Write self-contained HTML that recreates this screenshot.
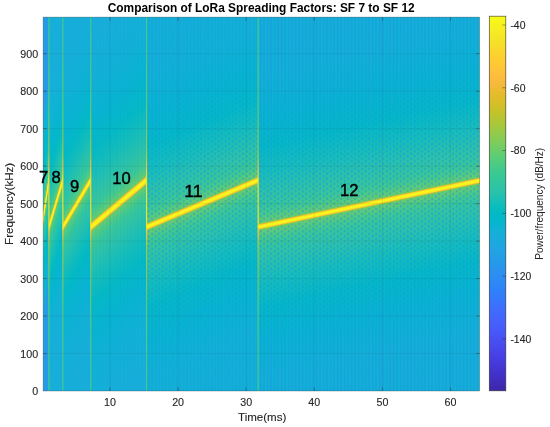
<!DOCTYPE html>
<html><head><meta charset="utf-8"><title>Comparison of LoRa Spreading Factors</title>
<style>html,body{margin:0;padding:0;background:#fff}svg{display:block;font-family:"Liberation Sans",Arial,Helvetica,sans-serif}</style>
</head><body>
<svg width="550" height="427" viewBox="0 0 550 427">
<defs><pattern id="stripes" patternUnits="userSpaceOnUse" x="0.8" y="0" width="3.5" height="10"><rect x="0" y="0" width="1.6" height="10" fill="#3c6cf5"/></pattern>
<pattern id="dots" patternUnits="userSpaceOnUse" x="0.8" y="0" width="7" height="5"><ellipse cx="0.8" cy="1.25" rx="1.15" ry="1.35" fill="#1e8cf0"/><ellipse cx="4.3" cy="3.75" rx="1.15" ry="1.35" fill="#1e8cf0"/></pattern>
<linearGradient id="g0" gradientUnits="userSpaceOnUse" x1="-19.26" y1="217.93" x2="103.06" y2="236.14"><stop offset="0.0000" stop-color="#259be8"/><stop offset="0.3729" stop-color="#259be8"/><stop offset="0.4044" stop-color="#10b2d5"/><stop offset="0.4282" stop-color="#06b5cf"/><stop offset="0.4461" stop-color="#02bac4"/><stop offset="0.4610" stop-color="#14bfb8"/><stop offset="0.4729" stop-color="#29c3a9"/><stop offset="0.4818" stop-color="#35c79a"/><stop offset="0.4865" stop-color="#44cb89"/><stop offset="0.4901" stop-color="#5ecd74"/><stop offset="0.4919" stop-color="#69cd6b"/><stop offset="0.4929" stop-color="#bbc42f"/><stop offset="0.4936" stop-color="#eaba31"/><stop offset="0.4949" stop-color="#feca33"/><stop offset="0.4968" stop-color="#f5ef20"/><stop offset="0.5000" stop-color="#f8f818"/><stop offset="0.5032" stop-color="#f5ef20"/><stop offset="0.5051" stop-color="#feca33"/><stop offset="0.5064" stop-color="#eaba31"/><stop offset="0.5071" stop-color="#bbc42f"/><stop offset="0.5081" stop-color="#69cd6b"/><stop offset="0.5099" stop-color="#5ecd74"/><stop offset="0.5135" stop-color="#44cb89"/><stop offset="0.5182" stop-color="#35c79a"/><stop offset="0.5271" stop-color="#29c3a9"/><stop offset="0.5390" stop-color="#14bfb8"/><stop offset="0.5539" stop-color="#02bac4"/><stop offset="0.5718" stop-color="#06b5cf"/><stop offset="0.5956" stop-color="#10b2d5"/><stop offset="0.6271" stop-color="#259be8"/><stop offset="1.0000" stop-color="#259be8"/></linearGradient>
<linearGradient id="g1" gradientUnits="userSpaceOnUse" x1="-65.98" y1="192.84" x2="163.73" y2="261.23"><stop offset="0.0000" stop-color="#17aeda"/><stop offset="0.3389" stop-color="#17aeda"/><stop offset="0.3799" stop-color="#10b2d5"/><stop offset="0.4109" stop-color="#06b5cf"/><stop offset="0.4341" stop-color="#02bac4"/><stop offset="0.4535" stop-color="#14bfb8"/><stop offset="0.4689" stop-color="#29c3a9"/><stop offset="0.4805" stop-color="#35c79a"/><stop offset="0.4867" stop-color="#44cb89"/><stop offset="0.4914" stop-color="#5ecd74"/><stop offset="0.4937" stop-color="#69cd6b"/><stop offset="0.4946" stop-color="#bbc42f"/><stop offset="0.4952" stop-color="#eaba31"/><stop offset="0.4961" stop-color="#feca33"/><stop offset="0.4976" stop-color="#f5ef20"/><stop offset="0.5000" stop-color="#f8f818"/><stop offset="0.5024" stop-color="#f5ef20"/><stop offset="0.5039" stop-color="#feca33"/><stop offset="0.5048" stop-color="#eaba31"/><stop offset="0.5054" stop-color="#bbc42f"/><stop offset="0.5063" stop-color="#69cd6b"/><stop offset="0.5086" stop-color="#5ecd74"/><stop offset="0.5133" stop-color="#44cb89"/><stop offset="0.5195" stop-color="#35c79a"/><stop offset="0.5311" stop-color="#29c3a9"/><stop offset="0.5465" stop-color="#14bfb8"/><stop offset="0.5659" stop-color="#02bac4"/><stop offset="0.5891" stop-color="#06b5cf"/><stop offset="0.6201" stop-color="#10b2d5"/><stop offset="0.6611" stop-color="#17aeda"/><stop offset="1.0000" stop-color="#17aeda"/></linearGradient>
<linearGradient id="g2" gradientUnits="userSpaceOnUse" x1="-121.80" y1="117.11" x2="247.44" y2="336.96"><stop offset="0.0000" stop-color="#16afd9"/><stop offset="0.3042" stop-color="#16afd9"/><stop offset="0.3546" stop-color="#10b2d5"/><stop offset="0.3927" stop-color="#06b5cf"/><stop offset="0.4213" stop-color="#02bac4"/><stop offset="0.4451" stop-color="#14bfb8"/><stop offset="0.4642" stop-color="#29c3a9"/><stop offset="0.4785" stop-color="#35c79a"/><stop offset="0.4861" stop-color="#44cb89"/><stop offset="0.4918" stop-color="#5ecd74"/><stop offset="0.4946" stop-color="#69cd6b"/><stop offset="0.4956" stop-color="#bbc42f"/><stop offset="0.4960" stop-color="#eaba31"/><stop offset="0.4968" stop-color="#feca33"/><stop offset="0.4980" stop-color="#f5ef20"/><stop offset="0.5000" stop-color="#f8f818"/><stop offset="0.5020" stop-color="#f5ef20"/><stop offset="0.5032" stop-color="#feca33"/><stop offset="0.5040" stop-color="#eaba31"/><stop offset="0.5044" stop-color="#bbc42f"/><stop offset="0.5054" stop-color="#69cd6b"/><stop offset="0.5082" stop-color="#5ecd74"/><stop offset="0.5139" stop-color="#44cb89"/><stop offset="0.5215" stop-color="#35c79a"/><stop offset="0.5358" stop-color="#29c3a9"/><stop offset="0.5549" stop-color="#14bfb8"/><stop offset="0.5787" stop-color="#02bac4"/><stop offset="0.6073" stop-color="#06b5cf"/><stop offset="0.6454" stop-color="#10b2d5"/><stop offset="0.6958" stop-color="#16afd9"/><stop offset="1.0000" stop-color="#16afd9"/></linearGradient>
<linearGradient id="g3" gradientUnits="userSpaceOnUse" x1="-116.12" y1="-19.28" x2="297.55" y2="473.34"><stop offset="0.0000" stop-color="#16afd9"/><stop offset="0.2683" stop-color="#16afd9"/><stop offset="0.3283" stop-color="#10b2d5"/><stop offset="0.3735" stop-color="#06b5cf"/><stop offset="0.4074" stop-color="#02bac4"/><stop offset="0.4357" stop-color="#14bfb8"/><stop offset="0.4583" stop-color="#29c3a9"/><stop offset="0.4753" stop-color="#35c79a"/><stop offset="0.4843" stop-color="#44cb89"/><stop offset="0.4911" stop-color="#5ecd74"/><stop offset="0.4945" stop-color="#69cd6b"/><stop offset="0.4955" stop-color="#bbc42f"/><stop offset="0.4959" stop-color="#eaba31"/><stop offset="0.4967" stop-color="#feca33"/><stop offset="0.4980" stop-color="#f5ef20"/><stop offset="0.5000" stop-color="#f8f818"/><stop offset="0.5020" stop-color="#f5ef20"/><stop offset="0.5033" stop-color="#feca33"/><stop offset="0.5041" stop-color="#eaba31"/><stop offset="0.5045" stop-color="#bbc42f"/><stop offset="0.5055" stop-color="#69cd6b"/><stop offset="0.5089" stop-color="#5ecd74"/><stop offset="0.5157" stop-color="#44cb89"/><stop offset="0.5247" stop-color="#35c79a"/><stop offset="0.5417" stop-color="#29c3a9"/><stop offset="0.5643" stop-color="#14bfb8"/><stop offset="0.5926" stop-color="#02bac4"/><stop offset="0.6265" stop-color="#06b5cf"/><stop offset="0.6717" stop-color="#10b2d5"/><stop offset="0.7317" stop-color="#16afd9"/><stop offset="1.0000" stop-color="#16afd9"/></linearGradient>
<linearGradient id="g4" gradientUnits="userSpaceOnUse" x1="-3.42" y1="-130.02" x2="296.42" y2="584.09"><stop offset="0.0000" stop-color="#11b1d6"/><stop offset="0.2575" stop-color="#11b1d6"/><stop offset="0.3206" stop-color="#10b2d5"/><stop offset="0.3682" stop-color="#06b5cf"/><stop offset="0.4039" stop-color="#02bac4"/><stop offset="0.4337" stop-color="#14bfb8"/><stop offset="0.4575" stop-color="#29c3a9"/><stop offset="0.4754" stop-color="#35c79a"/><stop offset="0.4849" stop-color="#44cb89"/><stop offset="0.4920" stop-color="#5ecd74"/><stop offset="0.4956" stop-color="#69cd6b"/><stop offset="0.4965" stop-color="#bbc42f"/><stop offset="0.4969" stop-color="#eaba31"/><stop offset="0.4975" stop-color="#feca33"/><stop offset="0.4984" stop-color="#f5ef20"/><stop offset="0.5000" stop-color="#f8f818"/><stop offset="0.5016" stop-color="#f5ef20"/><stop offset="0.5025" stop-color="#feca33"/><stop offset="0.5031" stop-color="#eaba31"/><stop offset="0.5035" stop-color="#bbc42f"/><stop offset="0.5044" stop-color="#69cd6b"/><stop offset="0.5080" stop-color="#5ecd74"/><stop offset="0.5151" stop-color="#44cb89"/><stop offset="0.5246" stop-color="#35c79a"/><stop offset="0.5425" stop-color="#29c3a9"/><stop offset="0.5663" stop-color="#14bfb8"/><stop offset="0.5961" stop-color="#02bac4"/><stop offset="0.6318" stop-color="#06b5cf"/><stop offset="0.6794" stop-color="#10b2d5"/><stop offset="0.7425" stop-color="#11b1d6"/><stop offset="1.0000" stop-color="#11b1d6"/></linearGradient>
<linearGradient id="ng4" gradientUnits="userSpaceOnUse" x1="-3.42" y1="-130.02" x2="296.42" y2="584.09"><stop offset="0.0000" stop-color="#fff" stop-opacity="0.90"/><stop offset="0.2976" stop-color="#fff" stop-opacity="0.90"/><stop offset="0.4405" stop-color="#fff" stop-opacity="0.20"/><stop offset="0.5595" stop-color="#fff" stop-opacity="0.20"/><stop offset="0.7024" stop-color="#fff" stop-opacity="0.90"/><stop offset="1.0000" stop-color="#fff" stop-opacity="0.90"/></linearGradient>
<mask id="n4" maskUnits="userSpaceOnUse" x="0" y="0" width="550" height="427"><rect x="146.50" y="17.10" width="111.58" height="373.90" fill="url(#ng4)"/></mask>
<linearGradient id="mg4" gradientUnits="userSpaceOnUse" x1="-3.42" y1="-130.02" x2="296.42" y2="584.09"><stop offset="0.0000" stop-color="#fff" stop-opacity="0.15"/><stop offset="0.3333" stop-color="#fff" stop-opacity="0.15"/><stop offset="0.4464" stop-color="#fff" stop-opacity="1.00"/><stop offset="0.5536" stop-color="#fff" stop-opacity="1.00"/><stop offset="0.6667" stop-color="#fff" stop-opacity="0.15"/><stop offset="1.0000" stop-color="#fff" stop-opacity="0.15"/></linearGradient>
<mask id="m4" maskUnits="userSpaceOnUse" x="0" y="0" width="550" height="427"><rect x="146.50" y="17.10" width="111.58" height="373.90" fill="url(#mg4)"/></mask>
<linearGradient id="g5" gradientUnits="userSpaceOnUse" x1="173.63" y1="-175.24" x2="342.53" y2="629.31"><stop offset="0.0000" stop-color="#11b1d6"/><stop offset="0.2579" stop-color="#11b1d6"/><stop offset="0.3210" stop-color="#10b2d5"/><stop offset="0.3686" stop-color="#06b5cf"/><stop offset="0.4043" stop-color="#02bac4"/><stop offset="0.4341" stop-color="#14bfb8"/><stop offset="0.4579" stop-color="#29c3a9"/><stop offset="0.4758" stop-color="#35c79a"/><stop offset="0.4853" stop-color="#44cb89"/><stop offset="0.4924" stop-color="#5ecd74"/><stop offset="0.4960" stop-color="#69cd6b"/><stop offset="0.4970" stop-color="#bbc42f"/><stop offset="0.4973" stop-color="#eaba31"/><stop offset="0.4978" stop-color="#feca33"/><stop offset="0.4986" stop-color="#f5ef20"/><stop offset="0.5000" stop-color="#f8f818"/><stop offset="0.5014" stop-color="#f5ef20"/><stop offset="0.5022" stop-color="#feca33"/><stop offset="0.5027" stop-color="#eaba31"/><stop offset="0.5030" stop-color="#bbc42f"/><stop offset="0.5040" stop-color="#69cd6b"/><stop offset="0.5076" stop-color="#5ecd74"/><stop offset="0.5147" stop-color="#44cb89"/><stop offset="0.5242" stop-color="#35c79a"/><stop offset="0.5421" stop-color="#29c3a9"/><stop offset="0.5659" stop-color="#14bfb8"/><stop offset="0.5957" stop-color="#02bac4"/><stop offset="0.6314" stop-color="#06b5cf"/><stop offset="0.6790" stop-color="#10b2d5"/><stop offset="0.7421" stop-color="#11b1d6"/><stop offset="1.0000" stop-color="#11b1d6"/></linearGradient>
<linearGradient id="ng5" gradientUnits="userSpaceOnUse" x1="173.63" y1="-175.24" x2="342.53" y2="629.31"><stop offset="0.0000" stop-color="#fff" stop-opacity="0.90"/><stop offset="0.2976" stop-color="#fff" stop-opacity="0.90"/><stop offset="0.4405" stop-color="#fff" stop-opacity="0.20"/><stop offset="0.5595" stop-color="#fff" stop-opacity="0.20"/><stop offset="0.7024" stop-color="#fff" stop-opacity="0.90"/><stop offset="1.0000" stop-color="#fff" stop-opacity="0.90"/></linearGradient>
<mask id="n5" maskUnits="userSpaceOnUse" x="0" y="0" width="550" height="427"><rect x="258.08" y="17.10" width="221.52" height="373.90" fill="url(#ng5)"/></mask>
<linearGradient id="mg5" gradientUnits="userSpaceOnUse" x1="173.63" y1="-175.24" x2="342.53" y2="629.31"><stop offset="0.0000" stop-color="#fff" stop-opacity="0.15"/><stop offset="0.3333" stop-color="#fff" stop-opacity="0.15"/><stop offset="0.4464" stop-color="#fff" stop-opacity="1.00"/><stop offset="0.5536" stop-color="#fff" stop-opacity="1.00"/><stop offset="0.6667" stop-color="#fff" stop-opacity="0.15"/><stop offset="1.0000" stop-color="#fff" stop-opacity="0.15"/></linearGradient>
<mask id="m5" maskUnits="userSpaceOnUse" x="0" y="0" width="550" height="427"><rect x="258.08" y="17.10" width="221.52" height="373.90" fill="url(#mg5)"/></mask>
<linearGradient id="vl" gradientUnits="userSpaceOnUse" x1="0" y1="17.10" x2="0" y2="391.00"><stop offset="0.0000" stop-color="#41ca8c"/><stop offset="0.2356" stop-color="#5bcc76"/><stop offset="0.3613" stop-color="#97ca48"/><stop offset="0.4041" stop-color="#fec13a"/><stop offset="0.4308" stop-color="#f5e228"/><stop offset="0.5615" stop-color="#f5e228"/><stop offset="0.5775" stop-color="#fec13a"/><stop offset="0.6203" stop-color="#97ca48"/><stop offset="0.7621" stop-color="#5bcc76"/><stop offset="1.0000" stop-color="#41ca8c"/></linearGradient>
<linearGradient id="cb" x1="0" y1="0" x2="0" y2="1"><stop offset="0.0000" stop-color="#f9fb15"/><stop offset="0.0159" stop-color="#f7f51b"/><stop offset="0.0317" stop-color="#f6ef20"/><stop offset="0.0476" stop-color="#f5e924"/><stop offset="0.0635" stop-color="#f5e327"/><stop offset="0.0794" stop-color="#f7dc2a"/><stop offset="0.0952" stop-color="#fad62d"/><stop offset="0.1111" stop-color="#fccf30"/><stop offset="0.1270" stop-color="#fec934"/><stop offset="0.1429" stop-color="#fec338"/><stop offset="0.1587" stop-color="#febe3c"/><stop offset="0.1746" stop-color="#f8ba3d"/><stop offset="0.1905" stop-color="#f0ba36"/><stop offset="0.2063" stop-color="#e6bb2d"/><stop offset="0.2222" stop-color="#dcbd29"/><stop offset="0.2381" stop-color="#d1bf27"/><stop offset="0.2540" stop-color="#c5c22a"/><stop offset="0.2698" stop-color="#b9c431"/><stop offset="0.2857" stop-color="#abc739"/><stop offset="0.3016" stop-color="#9dc943"/><stop offset="0.3175" stop-color="#8fcb4e"/><stop offset="0.3333" stop-color="#81cc59"/><stop offset="0.3492" stop-color="#72cd64"/><stop offset="0.3651" stop-color="#64cd6f"/><stop offset="0.3810" stop-color="#57cc7a"/><stop offset="0.3968" stop-color="#4acb84"/><stop offset="0.4127" stop-color="#3fca8e"/><stop offset="0.4286" stop-color="#37c897"/><stop offset="0.4444" stop-color="#31c69f"/><stop offset="0.4603" stop-color="#2cc4a7"/><stop offset="0.4762" stop-color="#24c1ae"/><stop offset="0.4921" stop-color="#19bfb6"/><stop offset="0.5079" stop-color="#0bbdbd"/><stop offset="0.5238" stop-color="#02bac3"/><stop offset="0.5397" stop-color="#01b8ca"/><stop offset="0.5556" stop-color="#08b5d0"/><stop offset="0.5714" stop-color="#12b1d6"/><stop offset="0.5873" stop-color="#18addb"/><stop offset="0.6032" stop-color="#1ca9df"/><stop offset="0.6190" stop-color="#20a5e3"/><stop offset="0.6349" stop-color="#23a0e5"/><stop offset="0.6508" stop-color="#259be8"/><stop offset="0.6667" stop-color="#2797eb"/><stop offset="0.6825" stop-color="#2b91ef"/><stop offset="0.6984" stop-color="#2d8cf3"/><stop offset="0.7143" stop-color="#2e87f7"/><stop offset="0.7302" stop-color="#2f81fa"/><stop offset="0.7460" stop-color="#327cfc"/><stop offset="0.7619" stop-color="#3875fe"/><stop offset="0.7778" stop-color="#3e6fff"/><stop offset="0.7937" stop-color="#4269fe"/><stop offset="0.8095" stop-color="#4563fd"/><stop offset="0.8254" stop-color="#465efb"/><stop offset="0.8413" stop-color="#4758f8"/><stop offset="0.8571" stop-color="#4852f4"/><stop offset="0.8730" stop-color="#484df0"/><stop offset="0.8889" stop-color="#4747eb"/><stop offset="0.9048" stop-color="#4741e5"/><stop offset="0.9206" stop-color="#463cde"/><stop offset="0.9365" stop-color="#4537d5"/><stop offset="0.9524" stop-color="#4332cb"/><stop offset="0.9683" stop-color="#422ec0"/><stop offset="0.9841" stop-color="#402ab4"/><stop offset="1.0000" stop-color="#3e26a8"/></linearGradient></defs>
<rect width="550" height="427" fill="#fff"/>
<rect x="43.10" y="17.10" width="6.07" height="373.90" fill="url(#g0)"/>
<rect x="48.87" y="17.10" width="14.25" height="373.90" fill="url(#g1)"/>
<rect x="62.82" y="17.10" width="28.19" height="373.90" fill="url(#g2)"/>
<rect x="62.82" y="17.10" width="27.89" height="373.90" fill="url(#stripes)" opacity="0.05"/>
<polygon points="62.82,222.13 90.71,175.29 90.71,185.09 62.82,231.93" fill="url(#g2)"/>
<rect x="90.71" y="17.10" width="56.09" height="373.90" fill="url(#g3)"/>
<rect x="90.71" y="17.10" width="55.79" height="373.90" fill="url(#stripes)" opacity="0.08"/>
<polygon points="90.71,222.03 146.50,175.19 146.50,185.19 90.71,232.03" fill="url(#g3)"/>
<rect x="146.50" y="17.10" width="111.88" height="373.90" fill="url(#g4)"/>
<rect x="146.50" y="17.10" width="111.58" height="373.90" fill="url(#stripes)" opacity="0.15" mask="url(#n4)"/>
<rect x="146.50" y="17.10" width="111.58" height="373.90" fill="url(#dots)" mask="url(#m4)" opacity="0.42"/>
<polygon points="146.50,222.93 258.08,176.09 258.08,184.29 146.50,231.13" fill="url(#g4)"/>
<rect x="258.08" y="17.10" width="221.52" height="373.90" fill="url(#g5)"/>
<rect x="258.08" y="17.10" width="221.52" height="373.90" fill="url(#stripes)" opacity="0.24" mask="url(#n5)"/>
<rect x="258.08" y="17.10" width="221.52" height="373.90" fill="url(#dots)" mask="url(#m5)" opacity="0.42"/>
<polygon points="258.08,223.28 479.60,176.78 479.60,184.28 258.08,230.78" fill="url(#g5)"/>
<rect x="48.32" y="17.10" width="1.15" height="373.90" fill="url(#vl)"/>
<rect x="62.27" y="17.10" width="1.15" height="373.90" fill="url(#vl)"/>
<rect x="90.16" y="17.10" width="1.15" height="373.90" fill="url(#vl)"/>
<rect x="145.95" y="17.10" width="1.15" height="373.90" fill="url(#vl)"/>
<rect x="257.53" y="17.10" width="1.15" height="373.90" fill="url(#vl)"/>
<g stroke="#262626" stroke-opacity="0.12" stroke-width="0.6"><line x1="110.00" y1="17.10" x2="110.00" y2="391.00"/><line x1="178.10" y1="17.10" x2="178.10" y2="391.00"/><line x1="246.20" y1="17.10" x2="246.20" y2="391.00"/><line x1="314.30" y1="17.10" x2="314.30" y2="391.00"/><line x1="382.40" y1="17.10" x2="382.40" y2="391.00"/><line x1="450.50" y1="17.10" x2="450.50" y2="391.00"/><line x1="43.10" y1="353.52" x2="479.60" y2="353.52"/><line x1="43.10" y1="316.04" x2="479.60" y2="316.04"/><line x1="43.10" y1="278.57" x2="479.60" y2="278.57"/><line x1="43.10" y1="241.09" x2="479.60" y2="241.09"/><line x1="43.10" y1="203.61" x2="479.60" y2="203.61"/><line x1="43.10" y1="166.13" x2="479.60" y2="166.13"/><line x1="43.10" y1="128.66" x2="479.60" y2="128.66"/><line x1="43.10" y1="91.18" x2="479.60" y2="91.18"/><line x1="43.10" y1="53.70" x2="479.60" y2="53.70"/></g>
<g stroke="#262626" stroke-opacity="0.7" stroke-width="0.6"><line x1="110.00" y1="391.00" x2="110.00" y2="387.40"/><line x1="110.00" y1="17.10" x2="110.00" y2="20.70"/><line x1="178.10" y1="391.00" x2="178.10" y2="387.40"/><line x1="178.10" y1="17.10" x2="178.10" y2="20.70"/><line x1="246.20" y1="391.00" x2="246.20" y2="387.40"/><line x1="246.20" y1="17.10" x2="246.20" y2="20.70"/><line x1="314.30" y1="391.00" x2="314.30" y2="387.40"/><line x1="314.30" y1="17.10" x2="314.30" y2="20.70"/><line x1="382.40" y1="391.00" x2="382.40" y2="387.40"/><line x1="382.40" y1="17.10" x2="382.40" y2="20.70"/><line x1="450.50" y1="391.00" x2="450.50" y2="387.40"/><line x1="450.50" y1="17.10" x2="450.50" y2="20.70"/><line x1="43.10" y1="353.52" x2="46.70" y2="353.52"/><line x1="479.60" y1="353.52" x2="476.00" y2="353.52"/><line x1="43.10" y1="316.04" x2="46.70" y2="316.04"/><line x1="479.60" y1="316.04" x2="476.00" y2="316.04"/><line x1="43.10" y1="278.57" x2="46.70" y2="278.57"/><line x1="479.60" y1="278.57" x2="476.00" y2="278.57"/><line x1="43.10" y1="241.09" x2="46.70" y2="241.09"/><line x1="479.60" y1="241.09" x2="476.00" y2="241.09"/><line x1="43.10" y1="203.61" x2="46.70" y2="203.61"/><line x1="479.60" y1="203.61" x2="476.00" y2="203.61"/><line x1="43.10" y1="166.13" x2="46.70" y2="166.13"/><line x1="479.60" y1="166.13" x2="476.00" y2="166.13"/><line x1="43.10" y1="128.66" x2="46.70" y2="128.66"/><line x1="479.60" y1="128.66" x2="476.00" y2="128.66"/><line x1="43.10" y1="91.18" x2="46.70" y2="91.18"/><line x1="479.60" y1="91.18" x2="476.00" y2="91.18"/><line x1="43.10" y1="53.70" x2="46.70" y2="53.70"/><line x1="479.60" y1="53.70" x2="476.00" y2="53.70"/></g>
<rect x="43.10" y="17.10" width="436.50" height="373.90" fill="none" stroke="#262626" stroke-opacity="0.45" stroke-width="0.6"/>
<rect x="489.30" y="16.20" width="16.50" height="374.60" fill="url(#cb)" stroke="#262626" stroke-opacity="0.8" stroke-width="0.7"/>
<g stroke="#262626" stroke-opacity="0.7" stroke-width="0.6"><line x1="502.30" y1="25.00" x2="505.80" y2="25.00"/><line x1="502.30" y1="87.78" x2="505.80" y2="87.78"/><line x1="502.30" y1="150.56" x2="505.80" y2="150.56"/><line x1="502.30" y1="213.34" x2="505.80" y2="213.34"/><line x1="502.30" y1="276.12" x2="505.80" y2="276.12"/><line x1="502.30" y1="338.90" x2="505.80" y2="338.90"/></g>
<g font-size="10.4" fill="#262626" stroke="#262626" stroke-width="0.12"><text x="510.4" y="28.75">-40</text><text x="510.4" y="91.53">-60</text><text x="510.4" y="154.31">-80</text><text x="510.4" y="217.09">-100</text><text x="510.4" y="279.87">-120</text><text x="510.4" y="342.65">-140</text></g>
<g font-size="10.7" fill="#262626" stroke="#262626" stroke-width="0.12"><text x="110.00" y="406.3" text-anchor="middle">10</text><text x="178.10" y="406.3" text-anchor="middle">20</text><text x="246.20" y="406.3" text-anchor="middle">30</text><text x="314.30" y="406.3" text-anchor="middle">40</text><text x="382.40" y="406.3" text-anchor="middle">50</text><text x="450.50" y="406.3" text-anchor="middle">60</text><text x="38.2" y="395.25" text-anchor="end">0</text><text x="38.2" y="357.77" text-anchor="end">100</text><text x="38.2" y="320.29" text-anchor="end">200</text><text x="38.2" y="282.82" text-anchor="end">300</text><text x="38.2" y="245.34" text-anchor="end">400</text><text x="38.2" y="207.86" text-anchor="end">500</text><text x="38.2" y="170.38" text-anchor="end">600</text><text x="38.2" y="132.91" text-anchor="end">700</text><text x="38.2" y="95.43" text-anchor="end">800</text><text x="38.2" y="57.95" text-anchor="end">900</text></g>
<text x="261.2" y="12.4" text-anchor="middle" font-size="12" font-weight="bold" fill="#000" textLength="306.9" lengthAdjust="spacingAndGlyphs">Comparison of LoRa Spreading Factors: SF 7 to SF 12</text>
<text x="262.2" y="421.2" text-anchor="middle" font-size="11.8" fill="#262626" stroke="#262626" stroke-width="0.12" textLength="48.3" lengthAdjust="spacingAndGlyphs">Time(ms)</text>
<text transform="translate(13.1,203.9) rotate(-90)" text-anchor="middle" font-size="11.8" fill="#262626" stroke="#262626" stroke-width="0.12" textLength="82" lengthAdjust="spacingAndGlyphs">Frequency(kHz)</text>
<text transform="translate(543.1,203.8) rotate(-90)" text-anchor="middle" font-size="10" fill="#262626" textLength="112" lengthAdjust="spacingAndGlyphs">Power/frequency (dB/Hz)</text>
<g font-size="15.8" fill="#000" stroke="#000" stroke-width="0.4"><text x="38.9" y="182.8" textLength="9.23" lengthAdjust="spacingAndGlyphs">7</text><text x="51.5" y="182.8" textLength="9.23" lengthAdjust="spacingAndGlyphs">8</text><text x="70.0" y="192.1" textLength="9.23" lengthAdjust="spacingAndGlyphs">9</text><text x="112.2" y="184.2" textLength="18.45" lengthAdjust="spacingAndGlyphs">10</text><text x="184.2" y="196.5" textLength="18.45" lengthAdjust="spacingAndGlyphs">11</text><text x="340.0" y="196.0" textLength="18.45" lengthAdjust="spacingAndGlyphs">12</text></g>
</svg>
</body></html>
